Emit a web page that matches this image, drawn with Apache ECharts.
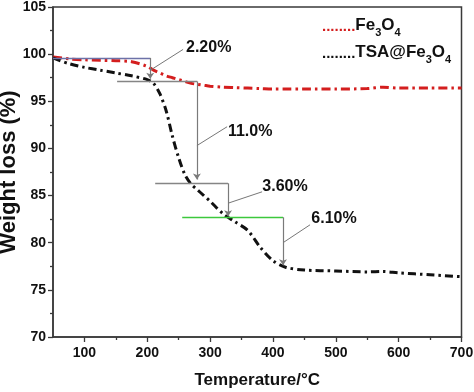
<!DOCTYPE html>
<html><head><meta charset="utf-8">
<script src="https://cdn.jsdelivr.net/npm/echarts@6/dist/echarts.min.js"></script>
<style>html,body{margin:0;padding:0;background:#fff}#c{width:474px;height:392px}</style>
</head><body><div id="c"></div>
<script>
// ---- data ----
const temps    = [50, 75, 100, 125, 150, 175, 200, 210, 220, 230, 240, 250, 260, 270, 280, 290, 300, 320, 340, 360, 380, 400, 420, 450, 500, 550, 575, 600, 650, 700];
const fe3o4    = [99.7, 99.5, 99.4, 99.35, 99.3, 99.2, 98.7, 98.3, 98.0, 97.7, 97.5, 97.3, 97.1, 96.9, 96.8, 96.7, 96.6, 96.5, 96.45, 96.4, 96.35, 96.3, 96.3, 96.3, 96.3, 96.35, 96.5, 96.4, 96.4, 96.4];
const tsaFe3o4 = [99.6, 99.0, 98.6, 98.3, 98.0, 97.7, 97.3, 96.9, 95.8, 94.0, 91.3, 89.0, 87.2, 86.2, 85.6, 85.0, 84.4, 83.1, 82.2, 81.3, 79.5, 78.1, 77.4, 77.1, 77.0, 76.9, 76.95, 76.8, 76.6, 76.4];
const xMajorTicks = [100, 200, 300, 400, 500, 600, 700];
const xMinorTicks = [150, 250, 350, 450, 550, 650];
// annotations (data units)
const annLabels   = ['2.20%', '11.0%', '3.60%', '6.10%'];
const annLabelAt  = [[297.7, 100.65], [363.7, 91.8], [419.2, 86.0], [497.2, 82.6]];
const stepH       = [[50, 204.7, 99.6], [152, 279.6, 97.1], [212.6, 328.6, 86.3], [255.6, 416, 82.7]];
const stepV       = [[204.7, 99.6, 97.4], [279, 97.1, 86.7], [328.6, 86.3, 82.8], [416, 82.7, 77.6]];
const leaders     = [[[205, 98.3], [257, 100.5]], [[279, 90.3], [327, 92.3]], [[329, 84.2], [382.7, 85.4]], [[416, 80.0], [459, 81.9]]];
const hColors     = ['#6d72a8', '#858585', '#858585', '#3cc83c'];

const FONT = 'Liberation Sans, Arial, sans-serif';
const chart = echarts.init(document.getElementById('c'), null, {renderer: 'canvas'});

const mlData = [];
stepH.forEach((h, i) => mlData.push([
  {coord: [h[0], h[2]], symbol: 'none', lineStyle: {color: hColors[i], width: 1.3, type: 'solid'}},
  {coord: [h[1], h[2]], symbol: 'none'}
]));
stepV.forEach(v => mlData.push([
  {coord: [v[0], v[1]], symbol: 'none', lineStyle: {color: '#7a7a7a', width: 1.2, type: 'solid'}},
  {coord: [v[0], v[2]], symbol: 'arrow', symbolSize: 6}
]));
leaders.forEach(l => mlData.push([
  {coord: l[0], symbol: 'none', lineStyle: {color: '#777', width: 1, type: 'solid'}},
  {coord: l[1], symbol: 'none'}
]));

const mpData = annLabels.map((t, i) => ({name: t, coord: annLabelAt[i]}));

chart.setOption({
  animation: false,
  backgroundColor: '#fff',
  grid: {left: 53, right: 12.5, top: 7, bottom: 55, show: true, borderColor: '#3a3a3a', borderWidth: 1.5, containLabel: false, outerBoundsMode: 'none'},
  xAxis: [{
    type: 'value', min: 50, max: 700,
    name: 'Temperature/\u00B0C', nameLocation: 'middle', nameGap: 35, nameMoveOverlap: false,
    nameTextStyle: {fontFamily: FONT, fontWeight: 'bold', fontSize: 17, color: '#111'},
    axisLine: {lineStyle: {color: '#3a3a3a', width: 1.5}},
    axisTick: {show: true, length: 5, customValues: xMajorTicks, lineStyle: {color: '#3a3a3a', width: 1.3}},
    axisLabel: {customValues: xMajorTicks, fontFamily: FONT, fontWeight: 'bold', fontSize: 14, color: '#111', margin: 9},
    splitLine: {show: false}
  }, {
    type: 'value', min: 50, max: 700, position: 'bottom',
    axisLine: {show: false},
    axisTick: {show: true, length: 3, customValues: xMinorTicks, lineStyle: {color: '#3a3a3a', width: 1.3}},
    axisLabel: {show: false}, splitLine: {show: false}
  }],
  yAxis: {
    type: 'value', min: 70, max: 105, interval: 5,
    name: 'Weight loss (%)', nameLocation: 'middle', nameGap: 33, nameRotate: 90, nameMoveOverlap: false,
    nameTextStyle: {fontFamily: FONT, fontWeight: 'bold', fontSize: 22, color: '#111'},
    axisLine: {show: true, lineStyle: {color: '#3a3a3a', width: 1.5}},
    axisTick: {show: true, length: 5, lineStyle: {color: '#3a3a3a', width: 1.3}},
    minorTick: {show: true, splitNumber: 2, length: 3, lineStyle: {color: '#3a3a3a', width: 1.3}},
    axisLabel: {fontFamily: FONT, fontWeight: 'bold', fontSize: 14, color: '#111', margin: 7},
    splitLine: {show: false}
  },
  series: [{
    name: 'Fe3O4', type: 'line', xAxisIndex: 0,
    data: temps.map((t, i) => [t, fe3o4[i]]),
    showSymbol: false, smooth: 0.3,
    lineStyle: {color: '#d41e1e', width: 3, type: [9, 4, 2.5, 4]},
    z: 3
  }, {
    name: 'TSA@Fe3O4', type: 'line', xAxisIndex: 0,
    data: temps.map((t, i) => [t, tsaFe3o4[i]]),
    showSymbol: false, smooth: 0.3,
    lineStyle: {color: '#111', width: 3, type: [8, 4, 2.5, 4]},
    z: 3
  }, {
    name: 'annotations', type: 'line', xAxisIndex: 0, data: [],
    markLine: {silent: true, animation: false, label: {show: false}, emphasis: {disabled: true}, data: mlData},
    markPoint: {
      silent: true, animation: false, symbol: 'rect', symbolSize: 1,
      itemStyle: {color: 'rgba(0,0,0,0)'},
      label: {show: true, position: 'inside', formatter: '{b}', fontFamily: FONT, fontWeight: 'bold', fontSize: 16, color: '#111'},
      data: mpData
    },
    z: 2
  }],
  graphic: [{
    type: 'text', left: 322, top: 17,
    style: {
      rich: {
        d: {fontFamily: FONT, fontSize: 15, fontWeight: 'bold', fill: '#d41e1e', verticalAlign: 'bottom'},
        t: {fontFamily: FONT, fontSize: 17, fontWeight: 'bold', fill: '#111', verticalAlign: 'bottom'},
        s: {fontFamily: FONT, fontSize: 11, fontWeight: 'bold', fill: '#111', verticalAlign: 'bottom', padding: [0, 0, -4, 0]}
      },
      text: '{d|........}{t|Fe}{s|3}{t|O}{s|4}'
    }
  }, {
    type: 'text', left: 322, top: 44,
    style: {
      rich: {
        d: {fontFamily: FONT, fontSize: 15, fontWeight: 'bold', fill: '#111', verticalAlign: 'bottom'},
        t: {fontFamily: FONT, fontSize: 17, fontWeight: 'bold', fill: '#111', verticalAlign: 'bottom'},
        s: {fontFamily: FONT, fontSize: 11, fontWeight: 'bold', fill: '#111', verticalAlign: 'bottom', padding: [0, 0, -4, 0]}
      },
      text: '{d|........}{t|TSA@Fe}{s|3}{t|O}{s|4}'
    }
  }]
});
</script>
</body></html>
